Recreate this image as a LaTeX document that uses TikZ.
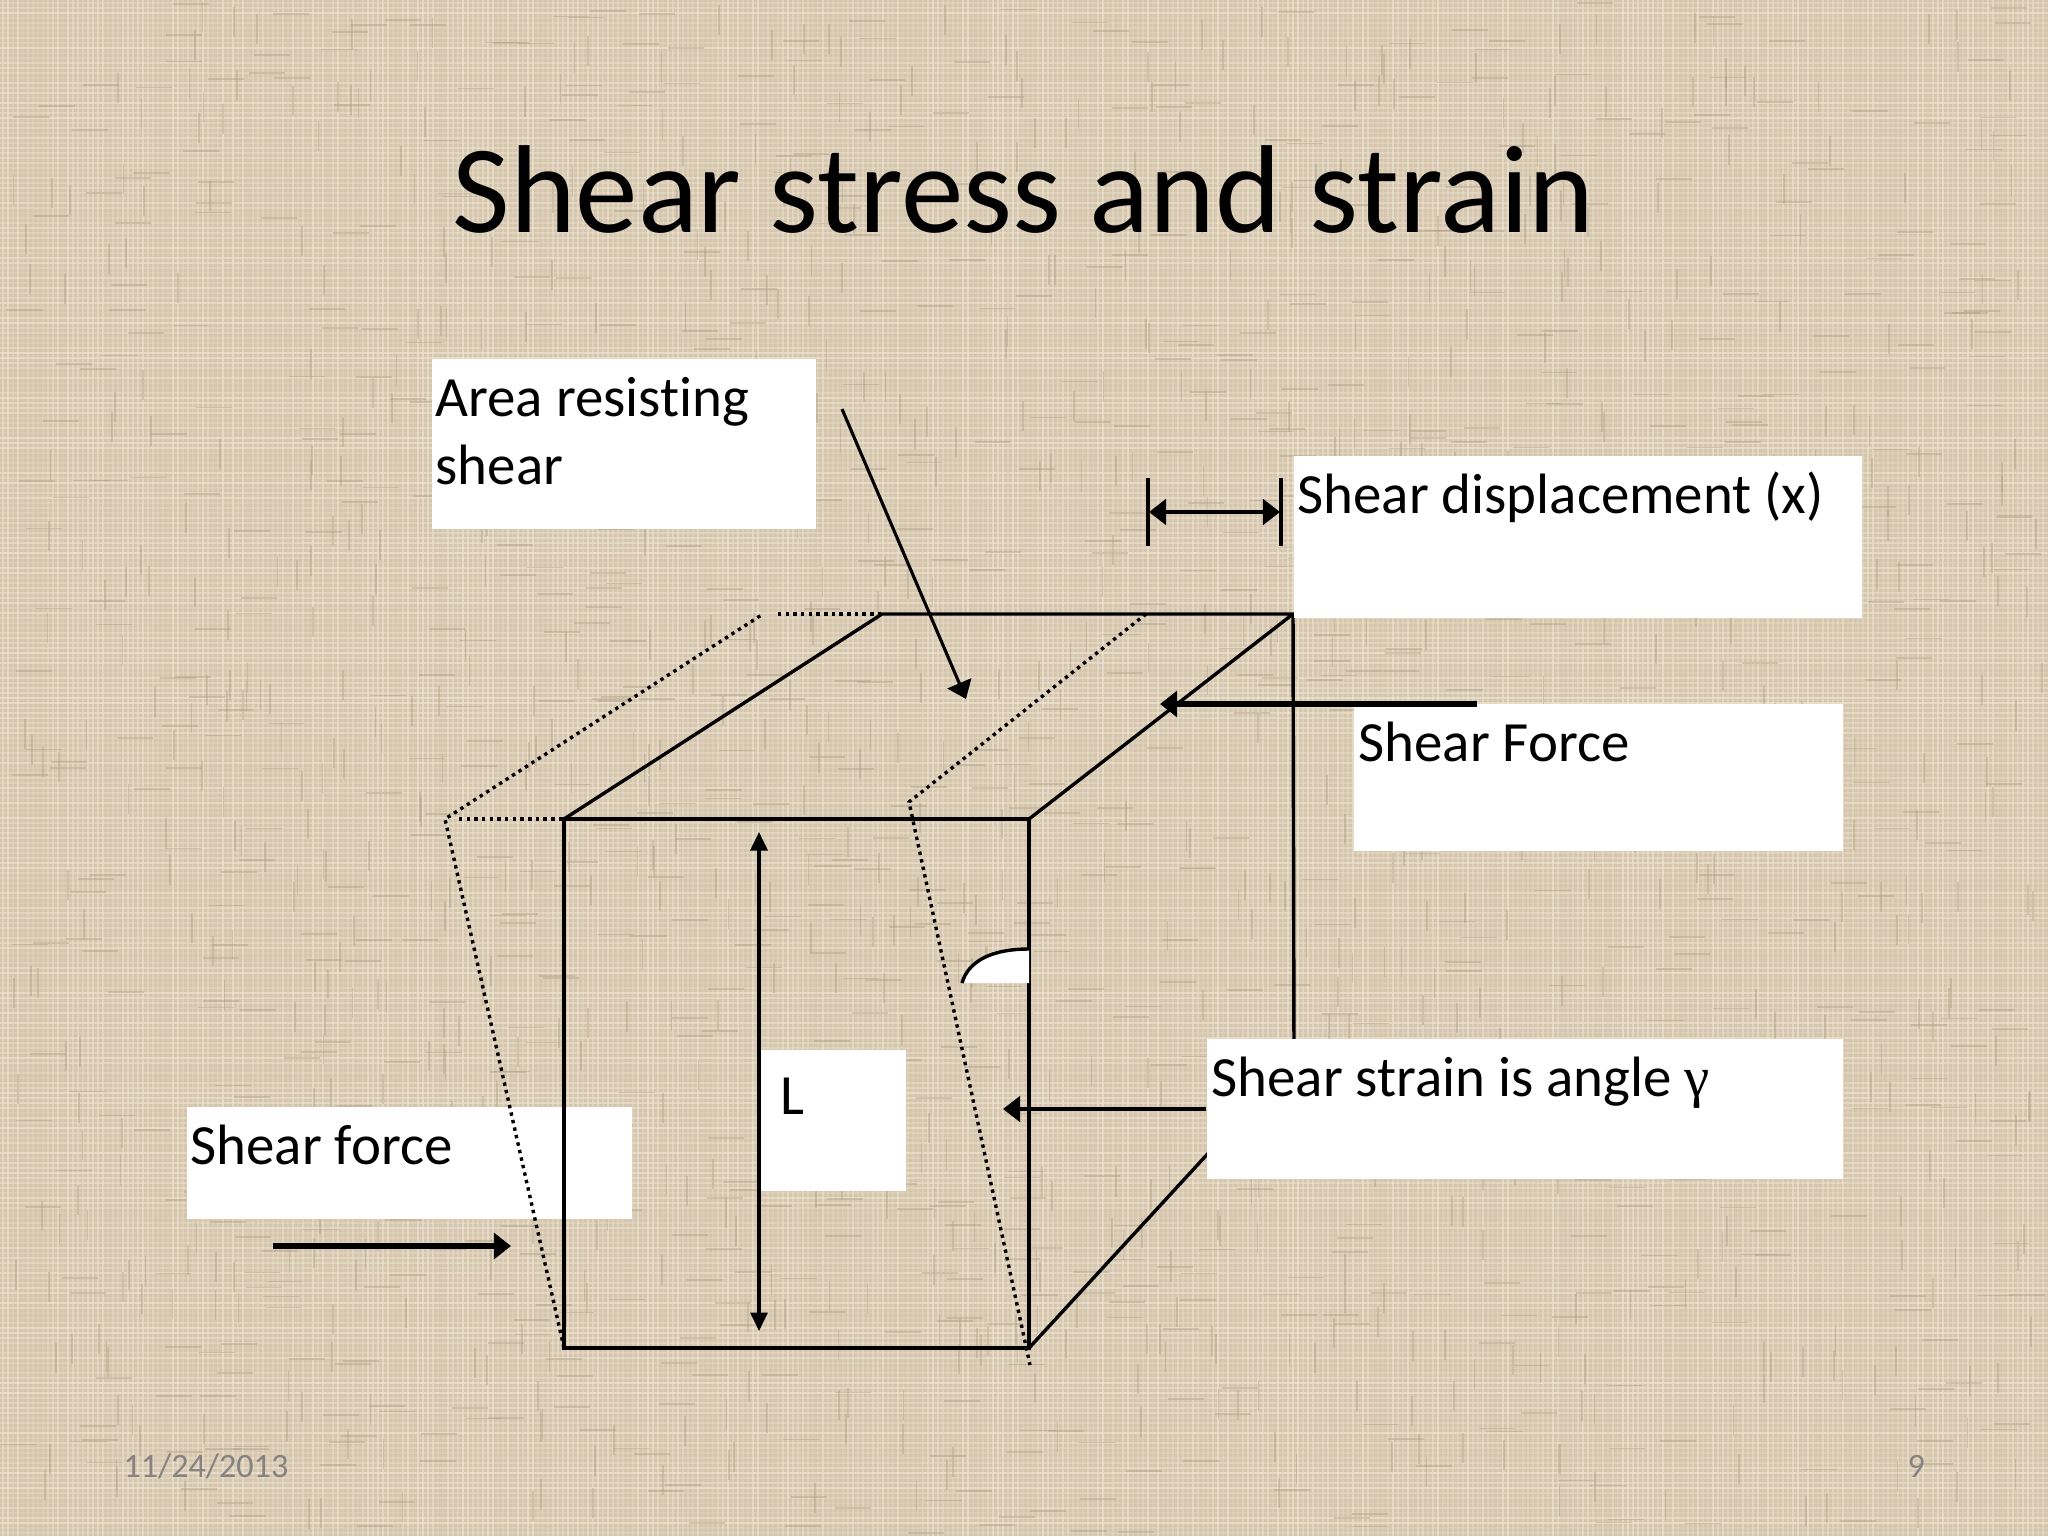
\documentclass[tikz,border=0pt]{standalone}
\usepackage{fontspec}
\setmainfont{Carlito}[Ligatures=NoCommon]
\newfontfamily\greekfont{Liberation Serif}
\usetikzlibrary{arrows.meta}
\definecolor{linen}{RGB}{213,197,173}
\definecolor{linenlight}{RGB}{240,231,214}
\definecolor{linendark}{RGB}{172,156,130}
\definecolor{footgray}{RGB}{135,130,130}
\tikzset{
    whitebox/.style={fill=white, inner sep=0pt, anchor=north west},
    boxlabel/.style={inner sep=0pt, anchor=north west, align=left, font=\fontsize{20}{24}\selectfont},
    edge/.style={line width=1.2pt},
    dots/.style={line width=1.2pt, dash pattern=on 1.2pt off 1.5pt},
    pointer/.style={line width=1.1pt, -{Triangle[length=6pt, width=9pt]}},
    bigpointer/.style={line width=2pt, -{Triangle[length=6pt, width=9pt]}},
    foot/.style={inner sep=0pt, anchor=base west, text=footgray, font=\fontsize{12}{14}\selectfont}
}
\begin{document}
\begin{tikzpicture}[x=0.3516pt, y=-0.3516pt]
    \useasboundingbox (0, 0) rectangle (2048, 1536);
    \fill[linen] (0, 0) rectangle (2048, 1536);
    % weave
    \pgfmathsetseed{24}
    \foreach \i in {3, 8, ..., 2045} {
        \pgfmathsetmacro{\shade}{0.15 + 0.5*rnd}
        \draw[linenlight, line width=0.6pt, opacity=\shade] (\i, 0) -- (\i, 1536);
    }
    \foreach \i in {3, 8, ..., 1533} {
        \pgfmathsetmacro{\shade}{0.15 + 0.5*rnd}
        \draw[linenlight, line width=0.6pt, opacity=\shade] (0, \i) -- (2048, \i);
    }
    \foreach \i in {1, ..., 900} {
        \pgfmathsetmacro{\px}{2048*rnd}
        \pgfmathsetmacro{\py}{1500*rnd}
        \draw[linendark, line width=0.6pt, opacity=0.4] (\px, \py) -- ++(0, 30);
        \pgfmathsetmacro{\qx}{2010*rnd}
        \pgfmathsetmacro{\qy}{1536*rnd}
        \draw[linendark, line width=0.6pt, opacity=0.4] (\qx, \qy) -- ++(36, 0);
    }
    % corners of the block
    \coordinate (frontTL) at (564, 819);
    \coordinate (frontTR) at (1029, 819);
    \coordinate (frontBL) at (564, 1348);
    \coordinate (frontBR) at (1029, 1348);
    \coordinate (backTL) at (882, 614);
    \coordinate (backTR) at (1293, 614);
    \coordinate (backBR) at (1294, 1060);
    % sheared outline
    \coordinate (skewFront) at (445, 819);
    \coordinate (skewBack) at (763, 614);
    \coordinate (skewFrontGap) at (459, 819);
    \coordinate (skewBackGap) at (778, 614);
    \coordinate (skewTR) at (909, 802);
    \coordinate (skewTRback) at (1146, 614);
    \coordinate (skewBR) at (1030, 1365);

    \node (forceBox) at (186, 1106) [whitebox, minimum width=156.5pt, minimum height=39.4pt] {};
    \node (lengthBox) at (760, 1049) [whitebox, minimum width=51pt, minimum height=49.6pt] {};

    \draw[edge] (frontTL) rectangle (frontBR);
    \draw[edge] (frontTL) -- (backTL) -- (backTR) -- (frontTR);
    \draw[edge] (backTR) -- (backBR) -- (frontBR);
    \draw[dots] (frontBL) -- (skewFront) -- (skewBack);
    \draw[dots] (skewFrontGap) -- (frontTL);
    \draw[dots] (skewBackGap) -- (backTL);
    \draw[dots] (skewTRback) -- (skewTR) -- (skewBR);

    % angle mark
    \coordinate (angleTop) at (1029, 949);
    \coordinate (angleEnd) at (962, 983);
    \coordinate (angleFoot) at (1029, 983);
    \fill[white] (angleTop) .. controls (990, 949) and (968, 962) .. (angleEnd) -- (angleFoot) -- cycle;
    \draw[edge] (angleTop) .. controls (990, 949) and (968, 962) .. (angleEnd);

    \node (areaBox) at (431, 358) [whitebox, minimum width=135pt, minimum height=59.8pt] {};
    \node (shiftBox) at (1293, 455) [whitebox, minimum width=199.7pt, minimum height=57pt] {};
    \node (topForceBox) at (1353, 703) [whitebox, minimum width=171.9pt, minimum height=52pt] {};
    \node (strainBox) at (1206, 1038) [whitebox, minimum width=223.6pt, minimum height=49.2pt] {};

    \node (title) at (452, 232) [inner sep=0pt, anchor=base west, font=\fontsize{44}{52}\selectfont] {Shear stress and strain};
    \node (areaLabel) at (435, 377) [boxlabel] {Area resisting\\shear};
    \node (shiftLabel) at (1297, 471) [boxlabel] {Shear displacement (x)};
    \node (topForceLabel) at (1358, 721) [boxlabel] {Shear Force};
    \node (strainLabel) at (1211, 1056) [boxlabel] {Shear strain is angle {\greekfont γ}};
    \node (forceLabel) at (190, 1124) [boxlabel] {Shear force};
    \node (lengthLabel) at (780, 1077) [boxlabel] {L};
    \node (dateLabel) at (123, 1477) [foot] {11/24/2013};
    \node (pageLabel) at (1907, 1477) [foot] {9};

    % arrows
    \coordinate (areaTail) at (842, 409);
    \coordinate (areaTip) at (966, 699);
    \draw[pointer] (areaTail) -- (areaTip);
    \coordinate (tickLeftTop) at (1148, 478);
    \coordinate (tickLeftEnd) at (1148, 546);
    \coordinate (tickRightTop) at (1281, 478);
    \coordinate (tickRightEnd) at (1281, 546);
    \draw[edge] (tickLeftTop) -- (tickLeftEnd);
    \draw[edge] (tickRightTop) -- (tickRightEnd);
    \coordinate (shiftLeft) at (1149, 512);
    \coordinate (shiftRight) at (1280, 512);
    \draw[pointer, {Triangle[length=6pt, width=9pt]}-{Triangle[length=6pt, width=9pt]}] (shiftLeft) -- (shiftRight);
    \coordinate (topForceTail) at (1477, 704);
    \coordinate (topForceTip) at (1160, 704);
    \draw[bigpointer] (topForceTail) -- (topForceTip);
    \coordinate (forceTail) at (273, 1246);
    \coordinate (forceTip) at (511, 1246);
    \draw[bigpointer] (forceTail) -- (forceTip);
    \coordinate (lengthTop) at (759, 832);
    \coordinate (lengthEnd) at (759, 1331);
    \draw[pointer, {Triangle[length=6.5pt, width=6pt]}-{Triangle[length=6.5pt, width=6pt]}] (lengthTop) -- (lengthEnd);
    \coordinate (strainTip) at (1003, 1109);
    \draw[pointer] (strainBox.west |- strainTip) -- (strainTip);
\end{tikzpicture}
\end{document}
